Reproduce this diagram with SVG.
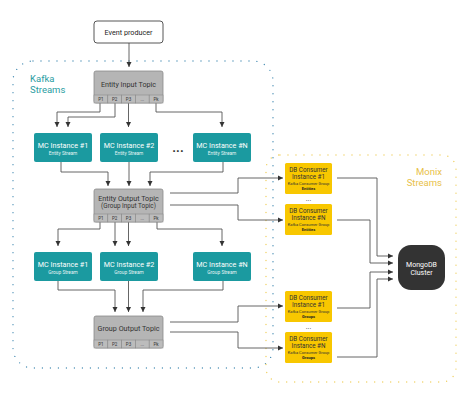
<svg xmlns="http://www.w3.org/2000/svg" width="474" height="409" viewBox="0 0 474 409">
<defs>
<marker id="ah" markerUnits="userSpaceOnUse" markerWidth="6" markerHeight="6" refX="5" refY="3" orient="auto">
<path d="M0,0.5 L5,3 L0,5.5 z" fill="#333"/>
</marker>
<style>
text{font-family:Roboto,"Liberation Sans",sans-serif;text-anchor:middle}
.conn path{fill:none;stroke:#555;stroke-width:0.9;marker-end:url(#ah)}
.topic{fill:#b5b5b5;stroke:#8a8a8a;stroke-width:0.8}
.cell{fill:#bcbcbc;stroke:#8a8a8a;stroke-width:0.6}
.tt{font-size:7.2px;fill:#333}
.pt{font-size:4.5px;fill:#333}
.mc{fill:#1b9aa0}
.mt{font-size:7.2px;fill:#fff}
.ms{font-size:4.8px;fill:#e6f4f4}
.db{fill:#f8c700}
.dt{font-size:6.3px;fill:#333}
.ds{font-size:4px;fill:#333}
.dg{font-size:4px;fill:#222;font-weight:bold}
</style>
</defs>
<rect width="474" height="409" fill="#fff"/>
<g id="kafka-region">
<rect x="13" y="61" width="260" height="307" rx="20" fill="none" stroke="#4a8fb5" stroke-width="1.4" stroke-dasharray="0 8" stroke-linecap="round"/>
<text x="30" y="82" style="text-anchor:start;font-size:9.5px;fill:#2a9da2">Kafka</text>
<text x="30" y="93" style="text-anchor:start;font-size:9.5px;fill:#2a9da2">Streams</text>
</g>
<g id="monix-region">
<rect x="266" y="155" width="190" height="227" rx="14" fill="none" stroke="#f0d060" stroke-width="1.4" stroke-dasharray="0 8" stroke-linecap="round"/>
<text x="442" y="175" style="text-anchor:end;font-size:9.5px;fill:#e8c14a">Monix</text>
<text x="442" y="186" style="text-anchor:end;font-size:9.5px;fill:#e8c14a">Streams</text>
</g>
<g class="conn" id="connectors">
<path d="M129,43 V67"/>
<path d="M100,103 V112 H57 V127"/>
<path d="M115,103 V117 H68 V127"/>
<path d="M128.5,103 V127"/>
<path d="M156,103 V112 H222 V127"/>
<path d="M61,162 V172 H108 V186"/>
<path d="M129,162 V186"/>
<path d="M223,162 V172 H150 V186"/>
<path d="M100,222 V229 H58 V246"/>
<path d="M115,222 V246"/>
<path d="M128.5,222 V246"/>
<path d="M157,222 V229 H222 V246"/>
<path d="M58,281 V290 H115 V312"/>
<path d="M128.5,281 V312"/>
<path d="M223,281 V290 H143 V312"/>
<path d="M170,193 H238 V178 H283"/>
<path d="M170,205 H238 V220 H283"/>
<path d="M170,322 H238 V306 H283"/>
<path d="M170,332 H238 V348 H283"/>
<path d="M337,178 H377 V256 H393"/>
<path d="M337,220 H370 V263 H393"/>
<path d="M337,308 H370 V272 H393"/>
<path d="M337,357 H377 V279 H393"/>
</g>
<g id="event-producer">
<rect x="94" y="21" width="69" height="22" rx="3" fill="#fff" stroke="#444" stroke-width="0.9"/>
<text x="128.5" y="34.5" class="tt" style="fill:#222">Event producer</text>
</g>
<g id="entity-input-topic">
<rect x="94" y="71" width="69" height="32" rx="2" class="topic"/>
<rect x="94" y="95" width="13.8" height="8" class="cell"/>
<rect x="107.8" y="95" width="13.8" height="8" class="cell"/>
<rect x="121.6" y="95" width="13.8" height="8" class="cell"/>
<rect x="135.4" y="95" width="13.8" height="8" class="cell"/>
<rect x="149.2" y="95" width="13.8" height="8" class="cell"/>
<text x="128.5" y="87" class="tt">Entity Input Topic</text>
<text x="100.9" y="100.6" class="pt">P1</text>
<text x="114.7" y="100.6" class="pt">P2</text>
<text x="128.5" y="100.6" class="pt">P3</text>
<text x="142.3" y="100.6" class="pt">...</text>
<text x="156.1" y="100.6" class="pt">Pk</text>
</g>
<g id="mc-entity-1">
<rect x="34" y="133" width="58" height="29" rx="2" class="mc"/>
<text x="63" y="148" class="mt">MC Instance #1</text>
<text x="63" y="154.5" class="ms">Entity Stream</text>
</g>
<g id="mc-entity-2">
<rect x="100" y="133" width="58" height="29" rx="2" class="mc"/>
<text x="129" y="148" class="mt">MC Instance #2</text>
<text x="129" y="154.5" class="ms">Entity Stream</text>
</g>
<g id="mc-entity-ellipsis">
<text x="178" y="152" style="font-size:13px;font-weight:bold;fill:#333">...</text>
</g>
<g id="mc-entity-n">
<rect x="193" y="133" width="58" height="29" rx="2" class="mc"/>
<text x="222" y="148" class="mt">MC Instance #N</text>
<text x="222" y="154.5" class="ms">Entity Stream</text>
</g>
<g id="entity-output-topic">
<rect x="94" y="189" width="69" height="33" rx="2" class="topic"/>
<rect x="94" y="214" width="13.8" height="8" class="cell"/>
<rect x="107.8" y="214" width="13.8" height="8" class="cell"/>
<rect x="121.6" y="214" width="13.8" height="8" class="cell"/>
<rect x="135.4" y="214" width="13.8" height="8" class="cell"/>
<rect x="149.2" y="214" width="13.8" height="8" class="cell"/>
<text x="128.5" y="200.5" class="tt">Entity Output Topic</text>
<text x="128.5" y="208" class="tt" style="font-size:6.4px">(Group Input Topic)</text>
<text x="100.9" y="219.6" class="pt">P1</text>
<text x="114.7" y="219.6" class="pt">P2</text>
<text x="128.5" y="219.6" class="pt">P3</text>
<text x="142.3" y="219.6" class="pt">...</text>
<text x="156.1" y="219.6" class="pt">Pk</text>
</g>
<g id="mc-group-1">
<rect x="34" y="252" width="58" height="29" rx="2" class="mc"/>
<text x="63" y="267" class="mt">MC Instance #1</text>
<text x="63" y="273.5" class="ms">Group Stream</text>
</g>
<g id="mc-group-2">
<rect x="100" y="252" width="58" height="29" rx="2" class="mc"/>
<text x="129" y="267" class="mt">MC Instance #2</text>
<text x="129" y="273.5" class="ms">Group Stream</text>
</g>
<g id="mc-group-n">
<rect x="193" y="252" width="58" height="29" rx="2" class="mc"/>
<text x="222" y="267" class="mt">MC Instance #N</text>
<text x="222" y="273.5" class="ms">Group Stream</text>
</g>
<g id="group-output-topic">
<rect x="94" y="316" width="69" height="32" rx="2" class="topic"/>
<rect x="94" y="340" width="13.8" height="8" class="cell"/>
<rect x="107.8" y="340" width="13.8" height="8" class="cell"/>
<rect x="121.6" y="340" width="13.8" height="8" class="cell"/>
<rect x="135.4" y="340" width="13.8" height="8" class="cell"/>
<rect x="149.2" y="340" width="13.8" height="8" class="cell"/>
<text x="128.5" y="330.5" class="tt">Group Output Topic</text>
<text x="100.9" y="345.6" class="pt">P1</text>
<text x="114.7" y="345.6" class="pt">P2</text>
<text x="128.5" y="345.6" class="pt">P3</text>
<text x="142.3" y="345.6" class="pt">...</text>
<text x="156.1" y="345.6" class="pt">Pk</text>
</g>
<g id="db-entities-1">
<rect x="285" y="163" width="47" height="31" rx="1.5" class="db"/>
<text x="308.5" y="172" class="dt">DB Consumer</text>
<text x="308.5" y="178.5" class="dt">Instance #1</text>
<text x="308.5" y="184.5" class="ds">Kafka Consumer Group</text>
<text x="308.5" y="189.5" class="dg">Entities</text>
</g>
<g id="db-entities-ellipsis">
<text x="308.5" y="201" style="font-size:7px;fill:#333">...</text>
</g>
<g id="db-entities-n">
<rect x="285" y="204" width="47" height="31" rx="1.5" class="db"/>
<text x="308.5" y="213" class="dt">DB Consumer</text>
<text x="308.5" y="219.5" class="dt">Instance #N</text>
<text x="308.5" y="225.5" class="ds">Kafka Consumer Group</text>
<text x="308.5" y="230.5" class="dg">Entities</text>
</g>
<g id="db-groups-1">
<rect x="285" y="291" width="47" height="31" rx="1.5" class="db"/>
<text x="308.5" y="300" class="dt">DB Consumer</text>
<text x="308.5" y="306.5" class="dt">Instance #1</text>
<text x="308.5" y="312.5" class="ds">Kafka Consumer Group</text>
<text x="308.5" y="317.5" class="dg">Groups</text>
</g>
<g id="db-groups-ellipsis">
<text x="308.5" y="328.5" style="font-size:7px;fill:#333">...</text>
</g>
<g id="db-groups-n">
<rect x="285" y="332" width="47" height="31" rx="1.5" class="db"/>
<text x="308.5" y="341" class="dt">DB Consumer</text>
<text x="308.5" y="347.5" class="dt">Instance #N</text>
<text x="308.5" y="353.5" class="ds">Kafka Consumer Group</text>
<text x="308.5" y="358.5" class="dg">Groups</text>
</g>
<g id="mongodb-cluster">
<rect x="398" y="245" width="47" height="45" rx="13" fill="#333"/>
<text x="421.5" y="267" style="font-size:7px;fill:#fff">MongoDB</text>
<text x="421.5" y="275" style="font-size:7px;fill:#fff">Cluster</text>
</g>
</svg>
